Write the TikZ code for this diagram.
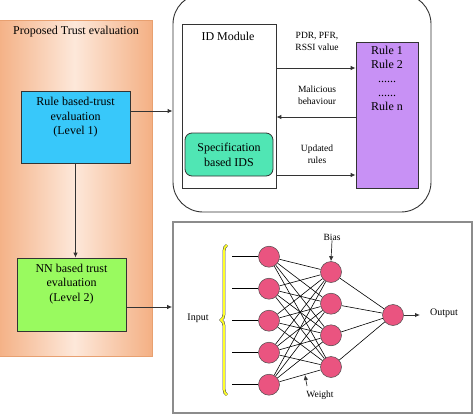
\documentclass[tikz,border=0pt]{standalone}
\usepackage{fontspec}
\setmainfont{Liberation Serif}
\usetikzlibrary{arrows.meta,decorations.pathreplacing,calc}
\definecolor{orA}{RGB}{244,176,132}
\definecolor{orB}{RGB}{253,232,218}
\definecolor{orE}{RGB}{232,160,112}
\definecolor{bluebox}{RGB}{56,200,250}
\definecolor{greenbox}{RGB}{153,250,95}
\definecolor{specbox}{RGB}{80,230,180}
\definecolor{purplebox}{RGB}{200,145,245}
\definecolor{neur}{RGB}{234,84,128}
\definecolor{brc}{RGB}{255,255,40}
\begin{document}
\begin{tikzpicture}[x=1pt,y=-1pt,
  box/.style={draw=black!80, line width=0.8pt, inner sep=0pt},
  main/.style={font=\rmfamily\fontsize{12}{14.5}\selectfont, align=center, inner sep=0pt},
  lbl/.style={font=\rmfamily\fontsize{9.5}{12}\selectfont, align=center, inner sep=0pt},
  arr/.style={-{Latex[length=5pt,width=4.5pt]}, line width=0.9pt, black!80},
  neuron/.style={circle, draw=black!70, line width=0.5pt, fill=neur, minimum size=21pt, inner sep=0pt},
  wire/.style={line width=0.6pt, black}]
\useasboundingbox (0,0) rectangle (474,415);

% orange panel
\shade[left color=orA, right color=orA, middle color=orB] (-3,20) rectangle (152,356);
\draw[orE, line width=0.8pt] (-3,20) rectangle (152,356);
\node[main] (ptitle) at (76,32) {Proposed Trust evaluation};

% level boxes
\node[box, fill=bluebox, minimum width=109pt, minimum height=72pt] (blue) at (75.5,127) {};
\node[main] (bluetxt) at (75.5,117.5) {Rule based-trust\\evaluation\\(Level 1)};
\node[box, fill=greenbox, minimum width=109pt, minimum height=73pt] (green) at (71.5,294.5) {};
\node[main] (greentxt) at (71.5,284) {NN based trust\\evaluation\\(Level 2)};

% top rounded box
\node[draw=black!80, line width=0.9pt, rounded corners=30pt, minimum width=258pt, minimum height=218pt, inner sep=0pt] (top) at (302,103) {};
\node[box, fill=white, minimum width=94pt, minimum height=164pt] (id) at (229,106) {};
\node[main, font=\rmfamily\fontsize{12}{14}\selectfont] (idtxt) at (228,36) {ID Module};
\node[box, fill=specbox, rounded corners=7pt, minimum width=88pt, minimum height=43pt, main, font=\rmfamily\fontsize{12}{15}\selectfont] (spec) at (229,154.5) {Specification\\based IDS};
\node[box, fill=purplebox, minimum width=62pt, minimum height=146pt] (rules) at (387,115) {};
\node[main, font=\rmfamily\fontsize{12}{14}\selectfont, anchor=north] (rulestxt) at (387,46) {Rule 1\\Rule 2\\......\\......\\Rule n};

% arrows between id and rules
\coordinate (a1) at (276,68);
\coordinate (a2) at (356,117);
\coordinate (a3) at (276,175);
\draw[arr] (a1) -- (a1 -| rules.west);
\draw[arr] (a2) -- (a2 -| id.east);
\draw[arr] (a3) -- (a3 -| rules.west);
\node[lbl] (l1) at (317,41) {PDR, PFR,\\RSSI value};
\node[lbl] (l2) at (317,95.5) {Malicious\\behaviour};
\node[lbl] (l3) at (317,154.5) {Updated\\rules};

% NN box
\node[draw=black!45, line width=1.6pt, minimum width=299pt, minimum height=191pt, inner sep=0pt] (nn) at (322.5,317.5) {};

% left arrows
\coordinate (b1) at (130,111);
\coordinate (b2) at (126,307);
\draw[arr] (b1) -- (b1 -| top.west);
\draw[arr] (b2) -- (b2 -| nn.west);
\draw[arr] (blue.south) -- (blue.south |- green.north);

% neurons
\foreach \i/\y in {1/256.7,2/288.7,3/320.7,4/352.7,5/384.7}{
  \node[neuron] (in\i) at (269,\y) {};
  \coordinate (s\i) at (232,\y);
  \draw[wire] (s\i) -- (in\i.west);
}
\foreach \j/\y in {1/272,2/303.7,3/335.3,4/367}{
  \node[neuron] (h\j) at (331,\y) {};
}
\node[neuron] (out) at (393,315) {};
\foreach \i in {1,...,5}{
  \foreach \j in {1,...,4}{
    \draw[wire] (in\i) -- (h\j);
  }
}
\foreach \j in {1,...,4}{
  \draw[wire] (h\j) -- (out);
}
\coordinate (o1) at (420,315);
\draw[arr] (out.east) -- (o1);
\node[lbl, font=\rmfamily\fontsize{10}{12}\selectfont, anchor=west] (outtxt) at (430,313) {Output};

% brace
\coordinate (br1) at (227,395);
\coordinate (br2) at (227,245);
\draw[black!70, line width=2.8pt, decorate, decoration={brace, amplitude=6pt}] (br1) -- (br2);
\draw[brc, line width=1.8pt, decorate, decoration={brace, amplitude=6pt}] (br1) -- (br2);
\node[lbl, font=\rmfamily\fontsize{10}{12}\selectfont] (intxt) at (198,318) {Input};

% bias and weight
\node[lbl] (bias) at (332,237) {Bias};
\draw[arr, line width=0.7pt] (bias.south) -- (h1.north);
\node[lbl] (weight) at (320,395) {Weight};
\coordinate (w1) at (307,386);
\coordinate (w2) at (305,375);
\draw[arr, line width=0.7pt] (w1) -- (w2);
\end{tikzpicture}
\end{document}
